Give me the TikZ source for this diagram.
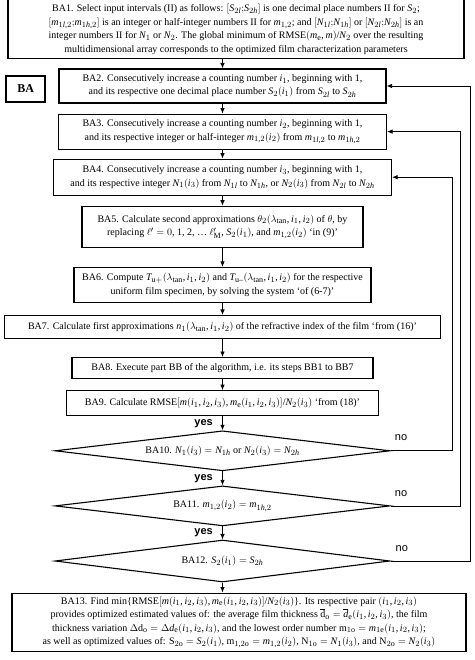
\documentclass[tikz,border=0pt]{standalone}
\usepackage{amsmath}
\usepackage{fontspec}
\setmainfont{Liberation Serif}
\newfontfamily\lblfont{Liberation Sans}
\usepackage[italic]{mathastext}
\usepackage{tikz}
\usetikzlibrary{positioning,arrows.meta,shapes.geometric}
\begin{document}
\begin{tikzpicture}[font=\fontsize{10}{13.5}\selectfont, >={Latex[length=5.5pt,width=4.5pt]}]
    \tikzstyle{block}=[draw, line width=1.1pt, align=center, inner sep=2pt]
    \tikzstyle{cond}=[draw, line width=1.1pt, diamond, aspect=8.4, inner sep=0pt, minimum width=335pt, minimum height=40pt]
    \tikzstyle{yeslbl}=[font=\lblfont\bfseries\fontsize{11}{11}\selectfont, left=6pt]
    \tikzstyle{nolbl}=[font=\lblfont\fontsize{11}{11}\selectfont, above=6pt]
    \useasboundingbox (0pt,0pt) rectangle (474pt,-660pt);

    % Loops
    \node[block,minimum width=327pt,minimum height=34pt] (ba2) at (222.5pt,-86pt)
        {BA2. Consecutively increase a counting number $i_1$, beginning with 1,\\
         and its respective one decimal place number $S_2(i_1)$ from $S_{2l}$ to $S_{2h}$};
    \node[block,minimum width=456pt,minimum height=59pt,above=9pt of ba2,xshift=13.5pt] (ba1)
        {BA1. Select input intervals (II) as follows: $[S_{2l}{;}S_{2h}]$ is one decimal place numbers II for $S_2$;\\
         $[m_{1l,2}{;}m_{1h,2}]$ is an integer or half-integer numbers II for $m_{1,2}$; and $[N_{1l}{;}N_{1h}]$ or $[N_{2l}{;}N_{2h}]$ is an\\
         integer numbers II for $N_1$ or $N_2$. The global minimum of RMSE$(m_{\mathrm{e}},m)/N_2$ over the resulting\\
         multidimensional array corresponds to the optimized film characterization parameters};
    \node[block,line width=2.5pt,minimum width=39pt,minimum height=26pt,left=12pt of ba2,yshift=-3pt,
        font=\bfseries\fontsize{12}{12}\selectfont] (ba) {BA};
    \node[block,minimum width=328pt,minimum height=35pt,below=10pt of ba2] (ba3)
        {BA3. Consecutively increase a counting number $i_2$, beginning with 1,\\
         and its respective integer or half-integer $m_{1,2}(i_2)$ from $m_{1l,2}$ to $m_{1h,2}$};
    \node[block,minimum width=338pt,minimum height=36pt,below=9pt of ba3] (ba4)
        {BA4. Consecutively increase a counting number $i_3$, beginning with 1,\\
         and its respective integer $N_1(i_3)$ from $N_{1l}$ to $N_{1h}$, or $N_2(i_3)$ from $N_{2l}$ to $N_{2h}$};

    % Calculations
    \node[block,minimum width=281pt,minimum height=41pt,below=10pt of ba4] (ba5)
        {BA5. Calculate second approximations $\theta_2(\lambda_{\mathrm{tan}},i_1,i_2)$ of $\theta$, by\\
         replacing $\ell' = 0$, 1, 2, \ldots\ $\ell'_{\mathrm{M}}$, $S_2(i_1)$, and $m_{1,2}(i_2)$ `in (9)'};
    \node[block,minimum width=297pt,minimum height=35pt,below=19pt of ba5] (ba6)
        {BA6. Compute $T_{\mathrm{u}+}(\lambda_{\mathrm{tan}},i_1,i_2)$ and $T_{\mathrm{u}-}(\lambda_{\mathrm{tan}},i_1,i_2)$ for the respective\\
         uniform film specimen, by solving the system `of (6-7)'};
    \node[block,minimum width=436pt,minimum height=23pt,below=12pt of ba6] (ba7)
        {BA7. Calculate first approximations $n_1(\lambda_{\mathrm{tan}},i_1,i_2)$ of the refractive index of the film `from (16)'};
    \node[block,minimum width=301pt,minimum height=21pt,below=18pt of ba7] (ba8)
        {BA8. Execute part BB of the algorithm, i.e. its steps BB1 to BB7};
    \node[block,minimum width=312pt,minimum height=25pt,below=11pt of ba8] (ba9)
        {BA9. Calculate RMSE$[m(i_1,i_2,i_3),m_{\mathrm{e}}(i_1,i_2,i_3)]/N_2(i_3)$ `from (18)'};

    % Tests
    \node[cond,below=14pt of ba9] (ba10) {BA10. $N_1(i_3) = N_{1h}$ or $N_2(i_3) = N_{2h}$};
    \node[cond,below=14pt of ba10] (ba11) {BA11. $m_{1,2}(i_2) = m_{1h,2}$};
    \node[cond,below=13pt of ba11,minimum height=42pt] (ba12) {BA12. $S_2(i_1) = S_{2h}$};

    % Result
    \node[block,minimum width=454pt,minimum height=58pt,below=10pt of ba12,xshift=16.5pt] (ba13)
        {BA13. Find min$\{$RMSE$[m(i_1,i_2,i_3),m_{\mathrm{e}}(i_1,i_2,i_3)]/N_2(i_3)\}$. Its respective pair $(i_1,i_2,i_3)$\\
         provides optimized estimated values of: the average film thickness $\overline{\mathrm{d}}_{\mathrm{o}} = \overline{d}_{\mathrm{e}}(i_1,i_2,i_3)$, the film\\
         thickness variation $\Delta\mathrm{d}_{\mathrm{o}} = \Delta d_{\mathrm{e}}(i_1,i_2,i_3)$, and the lowest order number $\mathrm{m}_{1\mathrm{o}} = m_{1\mathrm{e}}(i_1,i_2,i_3)$;\\
         as well as optimized values of: $\mathrm{S}_{2\mathrm{o}} = S_2(i_1)$, $\mathrm{m}_{1,2\mathrm{o}} = m_{1,2}(i_2)$, $\mathrm{N}_{1\mathrm{o}} = N_1(i_3)$, and $\mathrm{N}_{2\mathrm{o}} = N_2(i_3)$};

    \draw[thick,->] (ba1.south -| ba2.north) -- (ba2.north);
    \draw[thick,->] (ba2) -- (ba3);
    \draw[thick,->] (ba3) -- (ba4);
    \draw[thick,->] (ba4) -- (ba5);
    \draw[thick,->] (ba5) -- (ba6);
    \draw[thick,->] (ba6) -- (ba7);
    \draw[thick,->] (ba7) -- (ba8);
    \draw[thick,->] (ba8) -- (ba9);
    \draw[thick,->] (ba9) -- node[yeslbl] {yes} (ba10);
    \draw[thick,->] (ba10) -- node[yeslbl] {yes} (ba11);
    \draw[thick,->] (ba11) -- node[yeslbl] {yes} (ba12);
    \draw[thick,->] (ba12) -- (ba13.north -| ba12.south);

    \draw[thick,->] (ba10.east) -- node[nolbl,pos=0.17] {no} +(62pt,0pt) |- (ba4.east);
    \draw[thick,->] (ba11.east) -- node[nolbl,pos=0.15] {no} +(70pt,0pt) |- (ba3.east);
    \draw[thick,->] (ba12.east) -- node[nolbl,pos=0.14] {no} +(80pt,0pt) |- (ba2.east);
\end{tikzpicture}
\end{document}
